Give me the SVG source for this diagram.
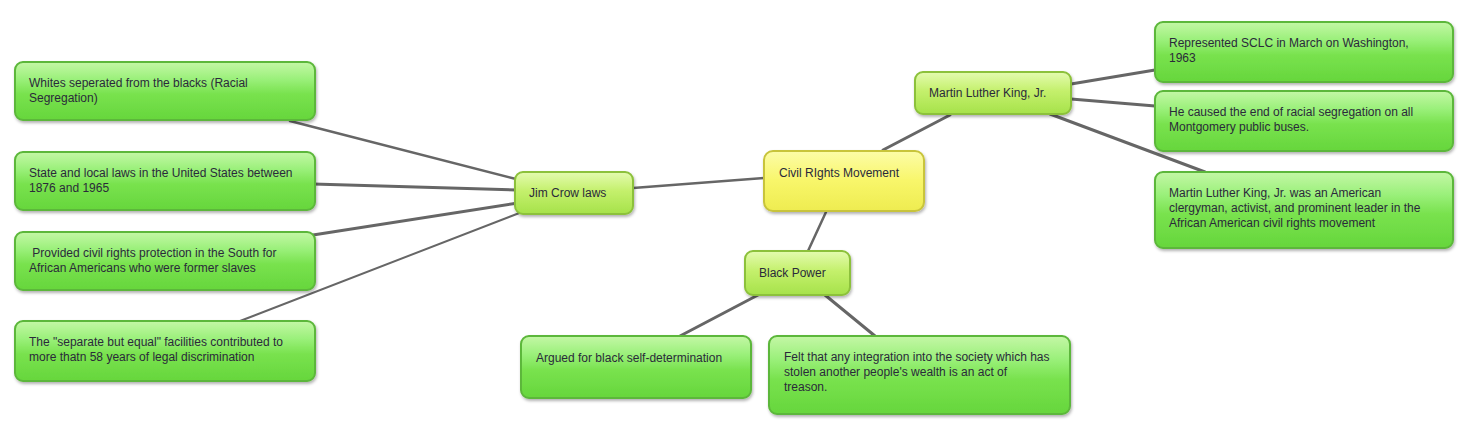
<svg xmlns="http://www.w3.org/2000/svg" width="1464" height="425" viewBox="0 0 1464 425">
<defs>
<linearGradient id="g" x1="0" y1="0" x2="0" y2="1"><stop offset="0" stop-color="#c4f7a6"/><stop offset="0.3" stop-color="#9af07a"/><stop offset="0.55" stop-color="#79e24e"/><stop offset="1" stop-color="#66d63c"/></linearGradient>
<linearGradient id="lg" x1="0" y1="0" x2="0" y2="1"><stop offset="0" stop-color="#e4fbb0"/><stop offset="0.45" stop-color="#c4f06c"/><stop offset="1" stop-color="#a6e24a"/></linearGradient>
<linearGradient id="y" x1="0" y1="0" x2="0" y2="1"><stop offset="0" stop-color="#fcfca8"/><stop offset="0.5" stop-color="#f8f66a"/><stop offset="1" stop-color="#eeec50"/></linearGradient>
<filter id="sh" x="-10%" y="-10%" width="120%" height="130%"><feDropShadow dx="1" dy="2" stdDeviation="1.5" flood-color="#000" flood-opacity="0.3"/></filter>
</defs>
<style>
.n{fill:url(#g);stroke:#5cb73a;stroke-width:2;filter:url(#sh)}
.l{fill:url(#lg);stroke:#8cc13a;stroke-width:2;filter:url(#sh)}
.c{fill:url(#y);stroke:#c8c43a;stroke-width:2;filter:url(#sh)}
text{font-family:"Liberation Sans",Arial,sans-serif;font-size:12px;fill:#2a2a3a}
.e line{stroke:#666;stroke-linecap:round}
</style>
<rect width="1464" height="425" fill="#fff"/>
<g id="connectors" class="e">
<line x1="290" y1="121" x2="520" y2="180" stroke-width="2.5"/>
<line x1="313" y1="184" x2="517" y2="190" stroke-width="3"/>
<line x1="313" y1="235" x2="518" y2="203" stroke-width="3"/>
<line x1="240" y1="321" x2="522" y2="212" stroke-width="2"/>
<line x1="633" y1="188" x2="765" y2="178" stroke-width="2.5"/>
<line x1="883" y1="150" x2="950" y2="115" stroke-width="3"/>
<line x1="808" y1="251" x2="826" y2="212" stroke-width="2.5"/>
<line x1="680" y1="336" x2="758" y2="295" stroke-width="3"/>
<line x1="875" y1="336" x2="825" y2="295" stroke-width="3"/>
<line x1="1071" y1="84" x2="1155" y2="70" stroke-width="3"/>
<line x1="1071" y1="99" x2="1155" y2="106" stroke-width="3"/>
<line x1="1050" y1="114" x2="1205" y2="172" stroke-width="3"/>
</g>
<g id="n1"><rect class="n" x="15" y="62" width="300" height="58" rx="8"/><text x="29" y="87">Whites seperated from the blacks (Racial</text><text x="29" y="102">Segregation)</text></g>
<g id="n2"><rect class="n" x="15" y="152" width="300" height="58" rx="8"/><text x="29" y="177">State and local laws in the United States between</text><text x="29" y="192">1876 and 1965</text></g>
<g id="n3"><rect class="n" x="15" y="232" width="300" height="58" rx="8"/><text x="29" y="257" xml:space="preserve"> Provided civil rights protection in the South for</text><text x="29" y="272">African Americans who were former slaves</text></g>
<g id="n4"><rect class="n" x="15" y="321" width="300" height="60" rx="8"/><text x="29" y="346">The "separate but equal" facilities contributed to</text><text x="29" y="361">more thatn 58 years of legal discrimination</text></g>
<g id="jim"><rect class="l" x="515" y="172" width="118" height="42" rx="8"/><text x="529" y="197">Jim Crow laws</text></g>
<g id="civil"><rect class="c" x="764" y="151" width="160" height="60" rx="9"/><text x="779" y="177">Civil RIghts Movement</text></g>
<g id="mlk"><rect class="l" x="915" y="72" width="156" height="42" rx="8"/><text x="929" y="97">Martin Luther King, Jr.</text></g>
<g id="bp"><rect class="l" x="745" y="251" width="105" height="44" rx="8"/><text x="759" y="277">Black Power</text></g>
<g id="argued"><rect class="n" x="521" y="336" width="230" height="62" rx="8"/><text x="536" y="362">Argued for black self-determination</text></g>
<g id="felt"><rect class="n" x="769" y="336" width="301" height="78" rx="8"/><text x="784" y="361">Felt that any integration into the society which has</text><text x="784" y="376">stolen another people's wealth is an act of</text><text x="784" y="391">treason.</text></g>
<g id="rep"><rect class="n" x="1155" y="22" width="298" height="60" rx="8"/><text x="1169" y="47">Represented SCLC in March on Washington,</text><text x="1169" y="62">1963</text></g>
<g id="caused"><rect class="n" x="1155" y="91" width="298" height="60" rx="8"/><text x="1169" y="116">He caused the end of racial segregation on all</text><text x="1169" y="131">Montgomery public buses.</text></g>
<g id="mlk2"><rect class="n" x="1155" y="172" width="298" height="76" rx="8"/><text x="1169" y="197">Martin Luther King, Jr. was an American</text><text x="1169" y="212">clergyman, activist, and prominent leader in the</text><text x="1169" y="227">African American civil rights movement</text></g>
</svg>
